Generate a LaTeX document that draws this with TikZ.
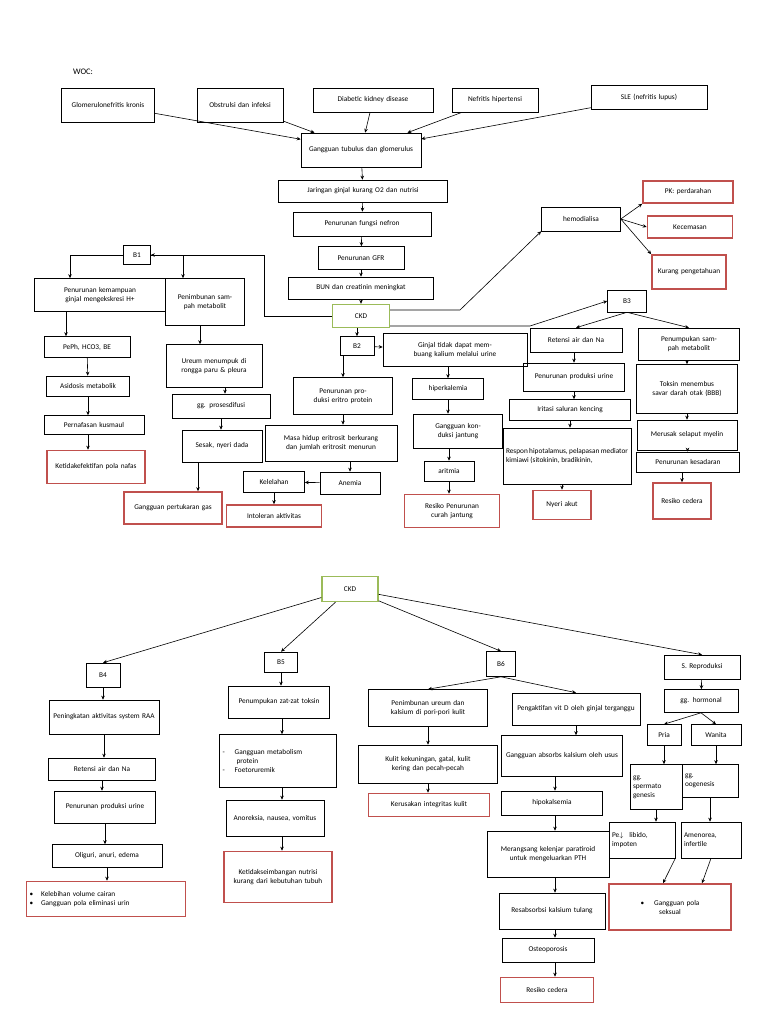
\documentclass[tikz,border=0pt]{standalone}
\usepackage{fontspec}
\setmainfont{Carlito}
\usetikzlibrary{arrows.meta}
\definecolor{rd}{RGB}{192,80,77}
\definecolor{gr}{RGB}{155,187,89}
\begin{document}
\begin{tikzpicture}[x=1pt,y=-1pt,
  B/.style={draw,line width=0.6pt,inner xsep=3pt,inner ysep=1pt,align=center,text width=#1,font=\fontsize{7.3}{9}\selectfont},
  R/.style={B=#1,draw=rd,line width=1.6pt},
  G/.style={B=#1,draw=gr,line width=1.4pt},
  arr/.style={-{Stealth[length=4pt,width=3.5pt]},line width=0.6pt},
  ln/.style={line width=0.6pt}]
\useasboundingbox (0,0) rectangle (768,1024);
\node[font=\fontsize{8.5}{10}\selectfont\rmfamily] (woc) at (83,72) {WOC:};
% top causes
\node[B=87pt,minimum height=34pt] (c1) at (108,105) {Glomerulonefritis kronis};
\node[B=80pt,minimum height=34pt] (c2) at (240,105) {Obstrulsi dan infeksi};
\node[B=114pt,minimum height=24pt] (c3) at (373,100) {Diabetic kidney disease};
\node[B=80pt,minimum height=24pt] (c4) at (495,100) {Nefritis hipertensi};
\node[B=110pt,minimum height=24pt] (c5) at (649,97) {SLE (nefritis lupus)};
\node[B=114pt,minimum height=34pt] (gt) at (361,150) {Gangguan tubulus dan glomerulus};
\node[B=163pt,minimum height=22pt] (jr) at (363,191) {Jaringan ginjal kurang O2 dan nutrisi};
\node[B=132pt,minimum height=24pt] (pf) at (362,224) {Penurunan fungsi nefron};
\node[B=80pt,minimum height=23pt] (gfr) at (361,258) {Penurunan GFR};
\node[B=139pt,minimum height=22pt] (bun) at (361,288) {BUN dan creatinin meningkat};
\node[G=51pt,minimum height=23pt] (ckd) at (361,316) {CKD};
\foreach \c in {c1,c2,c3,c4,c5}{\draw[arr] (\c) -- (gt);}
\draw[arr] (gt) -- (jr); \draw[arr] (jr) -- (pf); \draw[arr] (pf) -- (gfr);
\draw[arr] (gfr) -- (bun); \draw[arr] (bun) -- (ckd);
% hemodialisa
\node[B=73pt,minimum height=24pt] (hd) at (581,219) {hemodialisa};
\node[R=84pt,minimum height=22pt] (pk) at (688,192) {PK: perdarahan};
\node[R=79pt,minimum height=22pt] (kc) at (690,227) {Kecemasan};
\node[R=68pt,minimum height=34pt] (kp) at (689,272) {Kurang pengetahuan};
\coordinate (h1) at (460,310);
\draw[arr] (ckd.east|-h1) -- (h1) -- (hd.south west);
\draw[arr] (hd.east) -- (pk.south west);
\draw[arr] (hd.east) -- (kc.west);
\draw[arr] (hd.east) -- (kp.north west);
% B1
\node[B=21pt,minimum height=19pt] (b1) at (137,255) {B1};
\coordinate (k1) at (264,316); \coordinate (k2) at (264,255);
\draw[arr] (ckd.west) -- (k1) -- (k2) -- (b1.east);
\node[B=125pt,minimum height=33pt] (a1) at (100,295) {Penurunan kemampuan ginjal mengekskresi H+};
\node[B=73pt,minimum height=47pt] (s1) at (205,302) {Penimbunan sampah metabolit};
\coordinate (p1) at (70,255); \coordinate (p2) at (183,255);
\draw[arr] (b1.west) -- (p1) -- (p1|-a1.north);
\draw[arr] (b1.east) -- (p2) -- (p2|-s1.north);
\node[B=80pt,minimum height=21pt] (a2) at (87,347) {PePh, HCO3, BE};
\node[B=77pt,minimum height=20pt] (a3) at (88,386) {Asidosis metabolik};
\node[B=94pt,minimum height=19pt] (a4) at (94,425) {Pernafasan kusmaul};
\node[R=92pt,minimum height=33pt] (a5) at (96,467) {Ketidakefektifan pola nafas};
\draw[arr] (66,312) -- (66,0|-a2.north);
\draw[arr] (a2) -- (a3); \draw[arr] (a3) -- (a4.north-|a3); \draw[arr] (a4.south-|a3) -- (a5.north-|a3);
\node[B=90pt,minimum height=43pt] (s2) at (214,366) {Ureum menumpuk di rongga paru \& pleura};
\node[B=92pt,minimum height=24pt] (s3) at (221,406) {gg. prosesdifusi};
\node[B=74pt,minimum height=32pt] (s4) at (222,446) {Sesak, nyeri dada};
\node[R=92pt,minimum height=32pt] (s5) at (173,508) {Gangguan pertukaran gas};
\draw[arr] (200,325) -- (200,0|-s2.north);
\draw[arr] (225,387) -- (225,0|-s3.north);
\draw[arr] (221,418) -- (221,0|-s4.north);
\draw[arr] (198,462) -- (198,0|-s5.north);
% B2
\node[B=28pt,minimum height=19pt] (b2) at (357,346) {B2};
\draw[arr] (ckd.south-|b2) -- (b2);
\node[B=138pt,minimum height=33pt] (gk) at (455,350) {Ginjal tidak dapat membuang kalium melalui urine};
\draw[arr] (b2) -- (gk);
\node[B=93pt,minimum height=37pt] (e1) at (343,396) {Penurunan produksi eritro protein};
\draw[arr] (b2.south-|e1) -- (e1.north);
\node[B=126pt,minimum height=36pt] (e2) at (331,443) {Masa hidup eritrosit berkurang dan jumlah eritrosit menurun};
\node[B=54pt,minimum height=22pt] (e3) at (350,483) {Anemia};
\node[B=55pt,minimum height=21pt] (e4) at (274,482) {Kelelahan};
\node[R=89pt,minimum height=22pt] (e5) at (274,516) {Intoleran aktivitas};
\draw[arr] (343,414) -- (343,0|-e2.north);
\draw[arr] (e3.north|-e2.south) -- (e3.north);
\draw[arr] (e3) -- (e4);
\draw[arr] (e4) -- (e5);
\node[B=65pt,minimum height=21pt] (k3) at (448,389) {hiperkalemia};
\node[B=83pt,minimum height=34pt] (k4) at (458,431) {Gangguan konduksi jantung};
\node[B=44pt,minimum height=20pt] (k5) at (449,471) {aritmia};
\node[R=89pt,minimum height=33pt] (k6) at (452,511) {Resiko Penurunan curah jantung};
\draw[arr] (448,366) -- (k3);
\draw[arr] (k3.south) -- (k3.south|-k4.north);
\draw[arr] (k5.north|-k4.south) -- (k5.north);
\draw[arr] (k5.south) -- (k5.south|-k6.north);
% B3
\node[B=33pt,minimum height=22pt] (b3) at (627,301) {B3};
\coordinate (q1) at (530,326);
\draw[arr] (ckd.east|-q1) -- (q1) -- (b3.west);
\node[B=86pt,minimum height=24pt] (r1) at (576,340) {Retensi air dan Na};
\node[B=95pt,minimum height=32pt] (t1) at (689,344) {Penumpukan sampah metabolit};
\draw[arr] (b3.south) -- (r1.north);
\draw[arr] (b3.south) -- (t1.north);
\node[B=95pt,minimum height=28pt] (r2) at (574,377) {Penurunan produksi urine};
\node[B=115pt,minimum height=21pt] (r3) at (570,410) {Iritasi saluran kencing};
\node[B=122pt,minimum height=56pt,align=justify] (r4) at (567,456) {Respon hipotalamus, pelapasan mediator kimiawi (sitokinin, bradikinin,\par};
\node[R=52pt,minimum height=29pt] (r5) at (562,505) {Nyeri akut};
\draw[arr] (r1.south-|r2) -- (r2);
\draw[arr] (r2.south) -- (r2.south|-r3.north);
\draw[arr] (r3.south) -- (r3.south|-r4.north);
\draw[arr] (r4.south-|r5) -- (r5);
\node[B=95pt,minimum height=49pt] (t2) at (687,389) {Toksin menembus savar darah otak (BBB)};
\node[B=94pt,minimum height=30pt] (t3) at (687,435) {Merusak selaput myelin};
\node[B=97pt,minimum height=20pt] (t4) at (688,462) {Penurunan kesadaran};
\node[R=52pt,minimum height=36pt] (t5) at (682,501) {Resiko cedera};
\draw[arr] (t1.south-|t2) -- (t2);
\draw[arr] (t2) -- (t3); \draw[arr] (t3) -- (t4);
\draw[arr] (t4.south-|t5) -- (t5);
% ===== bottom =====
\node[G=50pt,minimum height=25pt] (ck2) at (350,589) {CKD};
\node[B=28pt,minimum height=24pt] (b4) at (103,675) {B4};
\node[B=27pt,minimum height=20pt] (b5) at (281,662) {B5};
\node[B=23pt,minimum height=25pt] (b6) at (501,664) {B6};
\node[B=70pt,minimum height=24pt] (sr) at (702,667) {S. Reproduksi};
\draw[arr] (ck2) -- (b4.north); \draw[arr] (ck2) -- (b5.north);
\draw[arr] (ck2) -- (b6.north); \draw[arr] (ck2) -- (sr.north);
% B4
\node[B=104pt,minimum height=34pt] (d1) at (104,717) {Peningkatan aktivitas system RAA};
\node[B=101pt,minimum height=22pt] (d2) at (102,769) {Retensi air dan Na};
\node[B=95pt,minimum height=32pt] (d3) at (105,807) {Penurunan produksi urine};
\node[B=104pt,minimum height=23pt] (d4) at (107,856) {Oliguri, anuri, edema};
\node[R=153pt,minimum height=35pt,align=left] (d5) at (106,899) {\textbullet\hspace{8pt}Kelebihan volume cairan\\\textbullet\hspace{8pt}Gangguan pola eliminasi urin};
\draw[arr] (b4) -- (b4|-d1.north);
\draw[arr] (d1) -- (d1|-d2.north);
\draw[arr] (d2) -- (d2|-d3.north);
\draw[arr] (d3) -- (d3|-d4.north);
\draw[arr] (d4) -- (d4|-d5.north);
% B5
\node[B=95pt,minimum height=32pt] (f1) at (279,702) {Penumpukan zat-zat toksin};
\node[B=111pt,minimum height=53pt,align=left] (f2) at (278,761) {-\hspace{10pt}Gangguan metabolism\\\hspace{14pt}protein\\-\hspace{10pt}Foetoruremik};
\node[B=92pt,minimum height=36pt] (f3) at (275,818) {Anoreksia, nausea, vomitus};
\node[R=102pt,minimum height=51pt] (f4) at (278,877) {Ketidakseimbangan nutrisi kurang dari kebutuhan tubuh};
\draw[arr] (b5) -- (b5|-f1.north);
\draw[arr] (f1.south-|282,0) -- (282,0|-f2.north);
\draw[arr] (f2.south-|282,0) -- (282,0|-f3.north);
\draw[arr] (f3.south-|282,0) -- (282,0|-f4.north);
% B6
\node[B=113pt,minimum height=37pt] (g1) at (428,708) {Penimbunan ureum dan kalsium di pori-pori kulit};
\node[B=133pt,minimum height=38pt] (g2) at (428,764) {Kulit kekuningan, gatal, kulit kering dan pecah-pecah};
\node[R=115pt,minimum height=23pt] (g3) at (429,805) {Kerusakan integritas kulit};
\draw[arr] (b6.south) -- (g1.north);
\draw[arr] (g1) -- (g1|-g2.north);
\draw[arr] (g2) -- (g2|-g3.north);
\node[B=122pt,minimum height=32pt] (h1n) at (576,709) {Pengaktifan vit D oleh ginjal terganggu};
\node[B=115pt,minimum height=41pt] (h2) at (562,756) {Gangguan absorbs kalsium oleh usus};
\node[B=95pt,minimum height=24pt] (h3) at (552,803) {hipokalsemia};
\node[B=116pt,minimum height=46pt] (h4) at (548,854) {Merangsang kelenjar paratiroid untuk mengeluarkan PTH};
\node[B=100pt,minimum height=36pt] (h5) at (552,911) {Resabsorbsi kalsium tulang};
\node[B=86pt,minimum height=24pt] (h6) at (548,950) {Osteoporosis};
\node[R=87pt,minimum height=25pt] (h7) at (547,990) {Resiko cedera};
\draw[arr] (b6.south) -- (h1n.north);
\draw[arr] (h1n) -- (h1n|-h2.north);
\draw[arr] (h2.south-|555,0) -- (555,0|-h3.north);
\draw[arr] (h3.south-|555,0) -- (555,0|-h4.north);
\draw[arr] (h4.south-|555,0) -- (555,0|-h5.north);
\draw[arr] (h5.south-|555,0) -- (555,0|-h6.north);
\draw[arr] (h6.south-|555,0) -- (555,0|-h7.north);
% reproduksi
\node[B=68pt,minimum height=23pt] (m1) at (701,701) {gg. hormonal};
\node[B=28pt,minimum height=21pt] (m2) at (664,735) {Pria};
\node[B=44pt,minimum height=21pt] (m3) at (716,735) {Wanita};
\node[B=46pt,minimum height=45pt,align=left] (m4) at (656,787) {gg.\\spermato\\genesis};
\node[B=50pt,minimum height=33pt,align=left] (m5) at (710,781) {gg.\\oogenesis};
\node[B=60pt,minimum height=36pt,align=left] (m6) at (642,840) {Pe$\downarrow$\hspace{6pt}libido,\\impoten};
\node[B=54pt,minimum height=36pt,align=left] (m7) at (711,840) {Amenorea,\\infertile};
\node[R=116pt,minimum height=46pt] (m8) at (670,907) {\textbullet\hspace{10pt}Gangguan pola\\seksual};
\draw[arr] (sr) -- (m1);
\draw[arr] (m1.south) -- (m2.north); \draw[arr] (m1.south) -- (m3.north);
\draw[arr] (m2) -- (m2|-m4.north);
\draw[arr] (m3) -- (m3|-m5.north);
\draw[arr] (m4.south) -- (m4.south|-m6.north);
\draw[arr] (m5.south) -- (m5.south|-m7.north);
\draw[arr] (m6.south east) -- (m8.north-|663,0);
\draw[arr] (m7.south) -- (m8.north-|702,0);
\end{tikzpicture}
\end{document}
